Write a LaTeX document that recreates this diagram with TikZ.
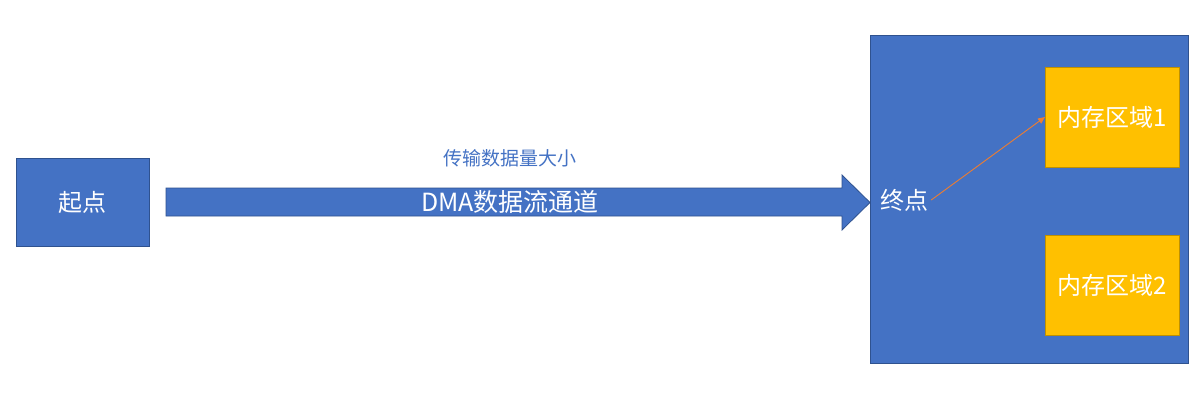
\documentclass[tikz,border=0pt]{standalone}
\usepackage{fontspec}
\setmainfont{Noto Sans CJK SC}
\definecolor{bluefill}{HTML}{4472C4}
\definecolor{blueline}{HTML}{2F528F}
\definecolor{goldfill}{HTML}{FFC000}
\definecolor{goldline}{HTML}{BF9000}
\definecolor{orangeline}{HTML}{ED7D31}
\usetikzlibrary{arrows.meta}
\begin{document}
\begin{tikzpicture}[x=1pt,y=-1pt,
  bluebox/.style={draw=blueline,fill=bluefill,line width=0.8pt},
  goldbox/.style={draw=goldline,fill=goldfill,line width=0.8pt},
  whitetext/.style={text=white,font=\fontsize{24}{28}\selectfont,inner sep=0pt},
]
\useasboundingbox[fill=white] (0,0) rectangle (1202,400);
% start box
\draw[bluebox] (16,158) rectangle (149,246);
\node[whitetext] (start) at (82.5,202) {起点};
% big arrow
\draw[bluebox] (166,188) -- (842,188) -- (842,175) -- (870,202.5) -- (842,230) -- (842,216) -- (166,216) -- cycle;
\node[whitetext,font=\fontsize{25}{28}\selectfont] (dma) at (510,202) {DMA数据流通道};
\node[text=bluefill,font=\fontsize{19}{22}\selectfont,inner sep=0pt] (size) at (510,158) {传输数据量大小};
% end box
\draw[bluebox] (870,35) rectangle (1188,363);
\node[whitetext] (end) at (904,200) {终点};
\draw[goldbox] (1045,67) rectangle (1179,167);
\node[whitetext] (mem1) at (1112,117) {内存区域1};
\draw[goldbox] (1045,235) rectangle (1179,335);
\node[whitetext] (mem2) at (1112,285) {内存区域2};
\coordinate (m1w) at (1045,117);
\draw[orangeline,line width=0.9pt,-{Triangle[length=7pt,width=6pt]}] ([xshift=3pt]end.east) -- (m1w);
\end{tikzpicture}
\end{document}
